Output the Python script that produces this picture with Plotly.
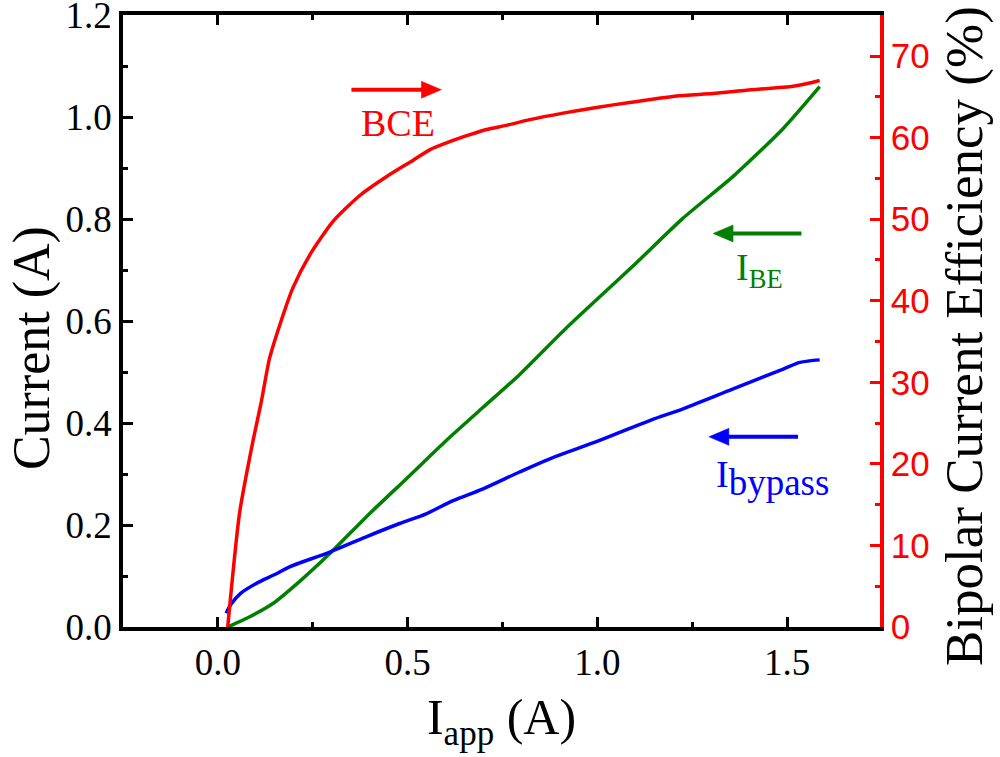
import plotly.graph_objects as go

# BCE (right axis, %)
bce_x = [0.026, 0.057, 0.093, 0.114, 0.136, 0.163, 0.198, 0.242, 0.303, 0.374, 0.444,
         0.514, 0.558, 0.611, 0.660, 0.708, 0.760, 0.822, 0.910, 0.998, 1.085, 1.209,
         1.305, 1.393, 1.516, 1.551, 1.586]
bce_y = [0.0, 13.9, 22.9, 27.5, 32.9, 37.0, 41.6, 45.6, 49.7, 52.9, 55.2,
         57.2, 58.5, 59.5, 60.3, 61.0, 61.5, 62.2, 63.0, 63.7, 64.3, 65.1,
         65.4, 65.8, 66.3, 66.6, 67.0]

# I_BE (left axis, A)
ibe_x = [0.026, 0.084, 0.145, 0.215, 0.295, 0.391, 0.497, 0.602, 0.699, 0.795,
         0.919, 1.094, 1.226, 1.358, 1.490, 1.586]
ibe_y = [0.0, 0.020, 0.046, 0.089, 0.144, 0.216, 0.291, 0.366, 0.431, 0.495,
         0.587, 0.708, 0.802, 0.884, 0.978, 1.060]

# I_bypass (left axis, A)
iby_x = [0.022, 0.035, 0.060, 0.100, 0.150, 0.189, 0.295, 0.391, 0.479, 0.549, 0.620, 0.699,
         0.795, 0.875, 1.006, 1.138, 1.226, 1.358, 1.490, 1.534, 1.586]
iby_y = [0.027, 0.045, 0.066, 0.085, 0.103, 0.118, 0.147, 0.177, 0.203, 0.222, 0.248, 0.271,
         0.304, 0.330, 0.366, 0.405, 0.428, 0.467, 0.506, 0.519, 0.524]

x_ticks = [0.0, 0.5, 1.0, 1.5]
y_ticks = [0.0, 0.2, 0.4, 0.6, 0.8, 1.0, 1.2]
y2_ticks = [0, 10, 20, 30, 40, 50, 60, 70]

RED = "#FF0000"
GREEN = "#008000"
BLUE = "#0000FF"
SERIF = "Times New Roman, Liberation Serif, serif"
SANS = "Arial, Liberation Sans, sans-serif"

fig = go.Figure()
fig.add_trace(go.Scatter(x=ibe_x, y=ibe_y, mode="lines",
                         line=dict(color=GREEN, width=3.5, shape="spline", smoothing=0.6),
                         name="I_BE", showlegend=False))
fig.add_trace(go.Scatter(x=iby_x, y=iby_y, mode="lines",
                         line=dict(color=BLUE, width=3.5, shape="spline", smoothing=0.9),
                         name="I_bypass", showlegend=False))
fig.add_trace(go.Scatter(x=bce_x, y=bce_y, mode="lines",
                         line=dict(color=RED, width=3.5, shape="spline", smoothing=0.6),
                         name="BCE", yaxis="y2", showlegend=False))

axis_common = dict(showgrid=False, zeroline=False, showline=True, linewidth=3.5,
                   ticks="inside", ticklen=10, tickwidth=3, ticklabeloverflow="allow",
                   automargin=False)

fig.update_layout(
    width=1000, height=757,
    margin=dict(l=123, r=120, t=15, b=130, autoexpand=False),
    plot_bgcolor="white", paper_bgcolor="white",
    font=dict(family=SERIF, color="black"),
    xaxis=dict(**axis_common, range=[-0.25, 1.745], tickvals=x_ticks, tickformat=".1f",
               linecolor="black", tickcolor="black", mirror="ticks",
               minor=dict(dtick=0.25, ticks="inside", ticklen=5, tickwidth=3, tickcolor="black"),
               tickfont=dict(family=SERIF, size=37, color="black"),
               title=dict(text="I<sub>app</sub> (A)", font=dict(family=SERIF, size=50, color="black"),
                          standoff=18)),
    yaxis=dict(**axis_common, range=[0, 1.2005], tickvals=y_ticks, tickformat=".1f",
               linecolor="black", tickcolor="black",
               minor=dict(dtick=0.1, ticks="inside", ticklen=5, tickwidth=3, tickcolor="black"),
               tickfont=dict(family=SERIF, size=37, color="black")),
    yaxis2=dict(**axis_common, overlaying="y", side="right", range=[0, 75.03], tickvals=y2_ticks,
                linecolor=RED, tickcolor=RED,
                minor=dict(dtick=5, ticks="inside", ticklen=5, tickwidth=3, tickcolor=RED),
                tickfont=dict(family=SANS, size=35, color=RED)),
)

# y-axis titles (placed to match the reference)
fig.add_annotation(text="Current (A)", xref="paper", yref="paper", x=-0.120, y=0.456,
                   textangle=-90, showarrow=False, xanchor="center", yanchor="middle",
                   font=dict(family=SERIF, size=52, color="black"))
fig.add_annotation(text="Bipolar Current Efficiency (%)", xref="paper", yref="paper",
                   x=1.1123, y=0.4755, textangle=-90, showarrow=False,
                   xanchor="center", yanchor="middle",
                   font=dict(family=SERIF, size=53, color="black"))

# arrows: shaft (line) + head (pixel-sized triangle anchored at the tip)
arrows = [
    (0.589, 1.054, 0.352, RED),
    (1.305, 0.772, 1.538, GREEN),
    (1.294, 0.373, 1.529, BLUE),
]
for hx, hy, tx, col in arrows:
    d = 1 if hx > tx else -1
    back = 0.03 * d
    fig.add_shape(type="line", xref="x", yref="y", x0=tx, y0=hy, x1=hx - back, y1=hy,
                  line=dict(color=col, width=4))
    fig.add_shape(type="path", xref="x", yref="y", xsizemode="pixel", ysizemode="pixel",
                  xanchor=hx, yanchor=hy,
                  path=f"M 0,0 L {-20*d},8.5 L {-20*d},-8.5 Z",
                  fillcolor=col, line=dict(color=col, width=0.5))

labels = [
    ("BCE", 0.474, 0.989, RED),
    ("I<sub>BE</sub>", 1.428, 0.700, GREEN),
    ("I<sub><span style='font-size:37px'>bypass</span></sub>", 1.462, 0.292, BLUE),
]
for txt, lx, ly, col in labels:
    fig.add_annotation(x=lx, y=ly, xref="x", yref="y", text=txt, showarrow=False,
                       xanchor="center", yanchor="middle",
                       font=dict(family=SERIF, size=38, color=col))

fig.write_html("out.html")
